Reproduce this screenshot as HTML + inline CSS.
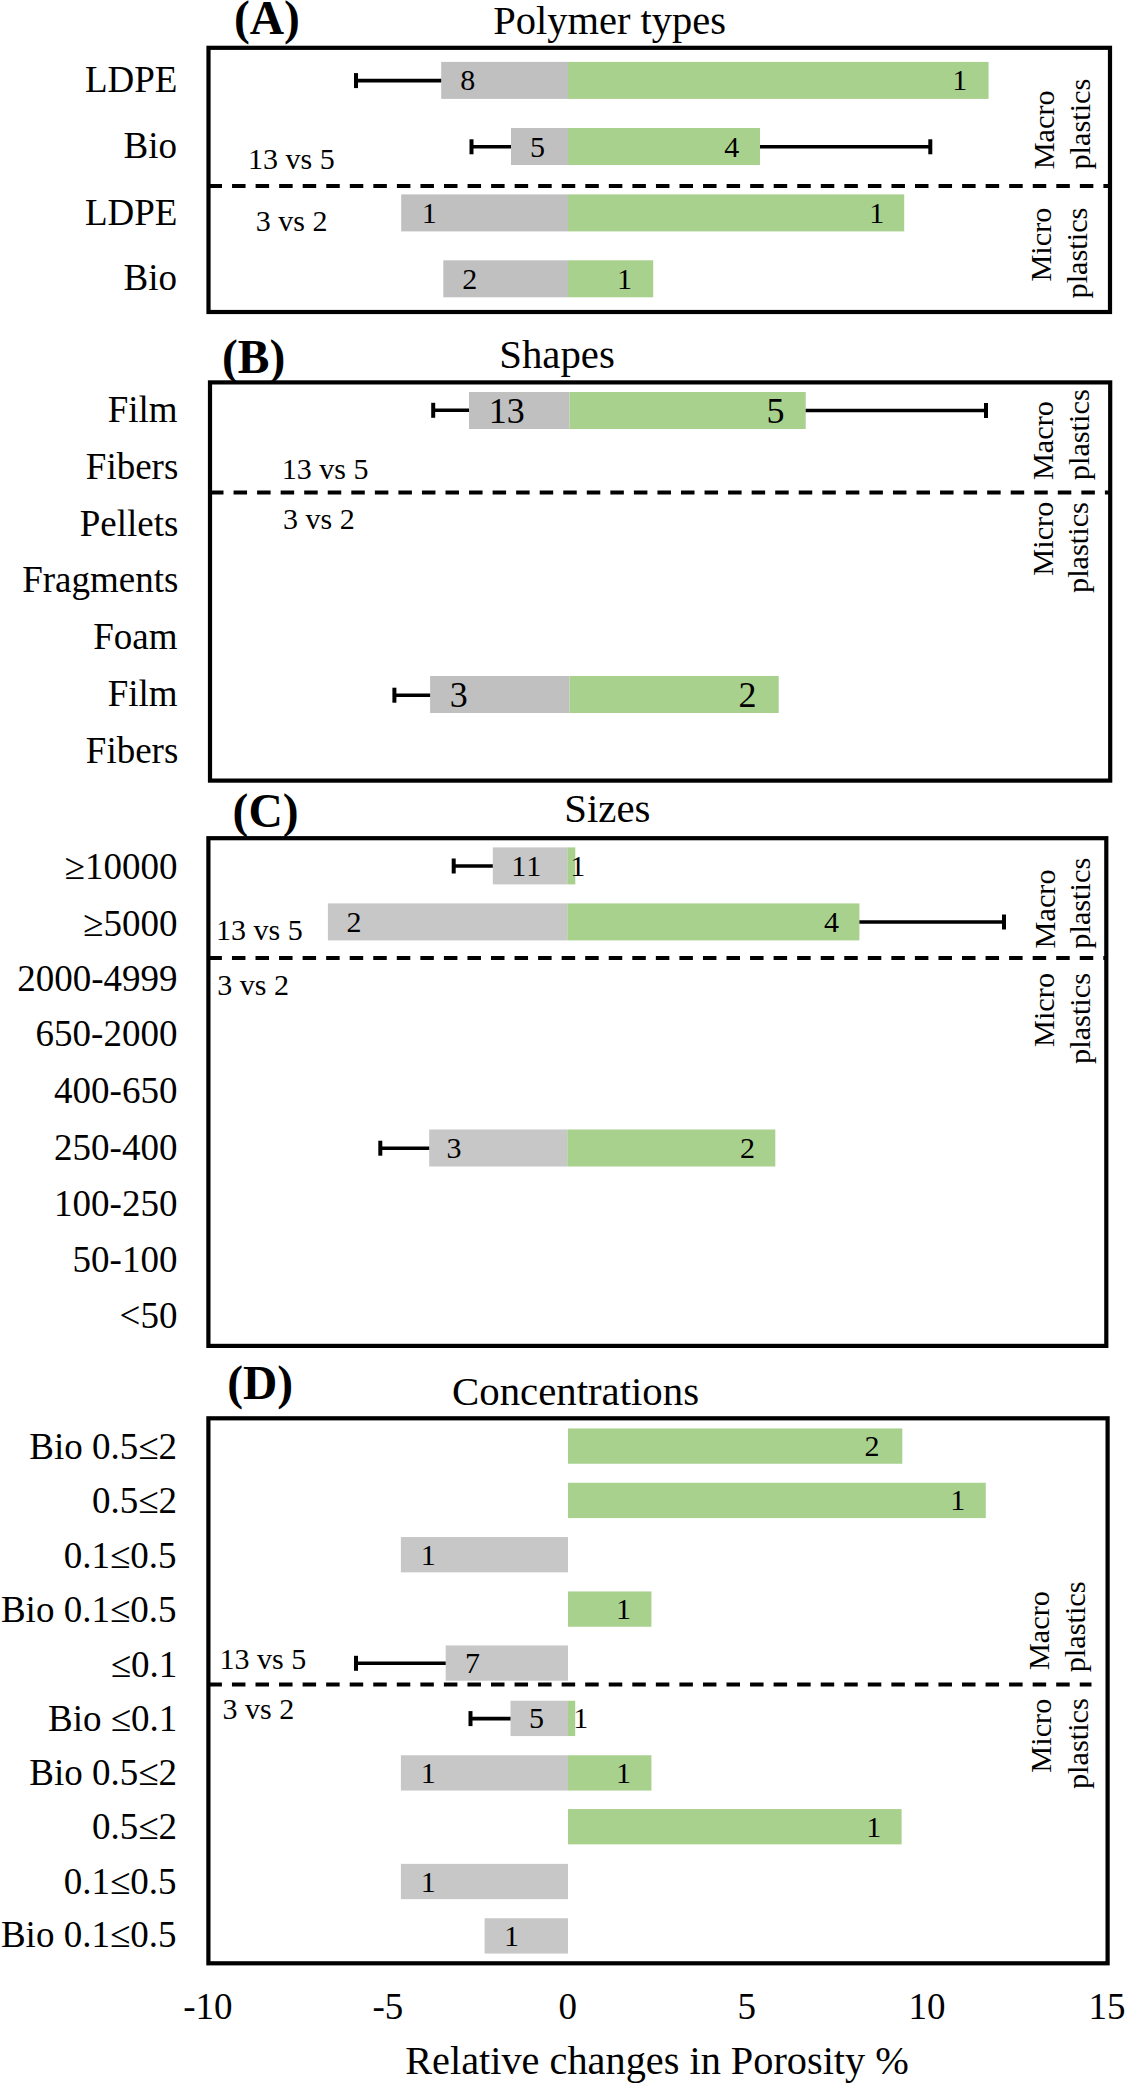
<!DOCTYPE html>
<html><head><meta charset="utf-8"><style>
html,body{margin:0;padding:0;background:#fff;}
svg{display:block;}
text{font-family:"Liberation Serif",serif;font-kerning:none;fill:#000;}
</style></head><body>
<svg width="1125" height="2085" viewBox="0 0 1125 2085">
<rect width="1125" height="2085" fill="#fff"/>
<text x="233.91" y="33.80" font-size="47.5" font-weight="bold">(A)</text>
<text x="493.23" y="33.90" font-size="40.5">Polymer types</text>
<rect x="208.5" y="47.8" width="901.5" height="264.2" fill="none" stroke="#000" stroke-width="4.2"/>
<rect x="441.20" y="61.90" width="126.80" height="37.00" fill="#c0c0c0"/>
<rect x="568.00" y="61.90" width="420.60" height="37.00" fill="#a9d18e"/>
<text x="460.16" y="90.40" font-size="30">8</text>
<text x="952.16" y="90.40" font-size="30">1</text>
<rect x="511.00" y="128.00" width="57.00" height="37.00" fill="#c0c0c0"/>
<rect x="568.00" y="128.00" width="192.00" height="37.00" fill="#a9d18e"/>
<text x="530.06" y="156.50" font-size="30">5</text>
<text x="724.31" y="156.50" font-size="30">4</text>
<rect x="401.20" y="194.40" width="166.80" height="37.00" fill="#c0c0c0"/>
<rect x="568.00" y="194.40" width="336.20" height="37.00" fill="#a9d18e"/>
<text x="421.76" y="222.90" font-size="30">1</text>
<text x="869.36" y="222.90" font-size="30">1</text>
<rect x="443.30" y="260.30" width="124.70" height="37.00" fill="#c0c0c0"/>
<rect x="568.00" y="260.30" width="85.20" height="37.00" fill="#a9d18e"/>
<text x="462.28" y="288.80" font-size="30">2</text>
<text x="617.06" y="288.80" font-size="30">1</text>
<line x1="441.2" y1="80.6" x2="356" y2="80.6" stroke="#000" stroke-width="3.6"/>
<line x1="356" y1="73.1" x2="356" y2="88.1" stroke="#000" stroke-width="4"/>
<line x1="511" y1="146.8" x2="471.5" y2="146.8" stroke="#000" stroke-width="3.6"/>
<line x1="471.5" y1="139.3" x2="471.5" y2="154.3" stroke="#000" stroke-width="4"/>
<line x1="760" y1="146.8" x2="930.3" y2="146.8" stroke="#000" stroke-width="3.6"/>
<line x1="930.3" y1="139.3" x2="930.3" y2="154.3" stroke="#000" stroke-width="4"/>
<line x1="208.5" y1="186" x2="1110" y2="186" stroke="#000" stroke-width="3.8" stroke-dasharray="13.5 10.05"/>
<text x="248.06" y="168.70" font-size="30">13 vs 5</text>
<text x="255.86" y="230.80" font-size="30">3 vs 2</text>
<text x="84.94" y="92.00" font-size="37">LDPE</text>
<text x="123.55" y="158.00" font-size="37">Bio</text>
<text x="84.94" y="224.70" font-size="37">LDPE</text>
<text x="123.55" y="290.00" font-size="37">Bio</text>
<text transform="translate(1054.40,169.37) rotate(-90)" font-size="30.3">Macro</text>
<text transform="translate(1089.70,169.59) rotate(-90)" font-size="30.3">plastics</text>
<text transform="translate(1051.40,281.59) rotate(-90)" font-size="30.3">Micro</text>
<text transform="translate(1086.70,298.49) rotate(-90)" font-size="30.3">plastics</text>
<text x="221.91" y="373.00" font-size="47.5" font-weight="bold">(B)</text>
<text x="499.27" y="367.70" font-size="40.8">Shapes</text>
<rect x="210" y="382.4" width="900.2" height="398.20000000000005" fill="none" stroke="#000" stroke-width="4.2"/>
<rect x="469.00" y="392.00" width="100.50" height="37.00" fill="#c0c0c0"/>
<rect x="569.50" y="392.00" width="236.20" height="37.00" fill="#a9d18e"/>
<text x="488.84" y="422.80" font-size="36">13</text>
<text x="766.51" y="422.80" font-size="36">5</text>
<rect x="430.10" y="676.00" width="139.40" height="37.00" fill="#c0c0c0"/>
<rect x="569.50" y="676.00" width="209.20" height="37.00" fill="#a9d18e"/>
<text x="449.78" y="706.80" font-size="36">3</text>
<text x="738.62" y="706.80" font-size="36">2</text>
<line x1="469" y1="410.3" x2="433.2" y2="410.3" stroke="#000" stroke-width="3.6"/>
<line x1="433.2" y1="402.8" x2="433.2" y2="417.8" stroke="#000" stroke-width="4"/>
<line x1="805.7" y1="410.5" x2="986" y2="410.5" stroke="#000" stroke-width="3.6"/>
<line x1="986" y1="403.0" x2="986" y2="418.0" stroke="#000" stroke-width="4"/>
<line x1="430.1" y1="695.2" x2="394.4" y2="695.2" stroke="#000" stroke-width="3.6"/>
<line x1="394.4" y1="687.7" x2="394.4" y2="702.7" stroke="#000" stroke-width="4"/>
<line x1="210" y1="492.5" x2="1110.2" y2="492.5" stroke="#000" stroke-width="3.8" stroke-dasharray="13.5 10.05"/>
<text x="281.76" y="478.60" font-size="30">13 vs 5</text>
<text x="282.96" y="529.10" font-size="30">3 vs 2</text>
<text x="107.66" y="421.70" font-size="37">Film</text>
<text x="85.84" y="478.60" font-size="37">Fibers</text>
<text x="79.68" y="535.50" font-size="37">Pellets</text>
<text x="22.13" y="592.40" font-size="37">Fragments</text>
<text x="93.30" y="649.30" font-size="37">Foam</text>
<text x="107.66" y="706.20" font-size="37">Film</text>
<text x="85.84" y="763.00" font-size="37">Fibers</text>
<text transform="translate(1052.70,480.07) rotate(-90)" font-size="30.3">Macro</text>
<text transform="translate(1088.60,480.19) rotate(-90)" font-size="30.3">plastics</text>
<text transform="translate(1052.80,575.69) rotate(-90)" font-size="30.3">Micro</text>
<text transform="translate(1088.00,592.99) rotate(-90)" font-size="30.3">plastics</text>
<text x="232.61" y="827.00" font-size="47.5" font-weight="bold">(C)</text>
<text x="564.27" y="821.50" font-size="40.8">Sizes</text>
<rect x="208.4" y="838.2" width="897.9" height="507.70000000000005" fill="none" stroke="#000" stroke-width="4.2"/>
<rect x="492.80" y="847.40" width="74.50" height="37.00" fill="#c7c7c7"/>
<rect x="567.30" y="847.40" width="8.00" height="37.00" fill="#a9d18e"/>
<text x="511.26" y="875.90" font-size="30">11</text>
<text x="570.36" y="875.90" font-size="30">1</text>
<rect x="327.90" y="903.40" width="239.40" height="37.00" fill="#c7c7c7"/>
<rect x="567.30" y="903.40" width="292.10" height="37.00" fill="#a9d18e"/>
<text x="346.48" y="931.90" font-size="30">2</text>
<text x="824.11" y="931.90" font-size="30">4</text>
<rect x="429.20" y="1129.50" width="138.10" height="37.00" fill="#c7c7c7"/>
<rect x="567.30" y="1129.50" width="208.00" height="37.00" fill="#a9d18e"/>
<text x="446.56" y="1158.00" font-size="30">3</text>
<text x="739.98" y="1158.00" font-size="30">2</text>
<line x1="492.8" y1="866" x2="453.7" y2="866" stroke="#000" stroke-width="3.6"/>
<line x1="453.7" y1="858.5" x2="453.7" y2="873.5" stroke="#000" stroke-width="4"/>
<line x1="859.4" y1="922" x2="1004" y2="922" stroke="#000" stroke-width="3.6"/>
<line x1="1004" y1="914.5" x2="1004" y2="929.5" stroke="#000" stroke-width="4"/>
<line x1="429.2" y1="1148.2" x2="380.3" y2="1148.2" stroke="#000" stroke-width="3.6"/>
<line x1="380.3" y1="1140.7" x2="380.3" y2="1155.7" stroke="#000" stroke-width="4"/>
<line x1="208.4" y1="958" x2="1106.3" y2="958" stroke="#000" stroke-width="3.8" stroke-dasharray="13.5 10.05"/>
<text x="216.06" y="940.00" font-size="30">13 vs 5</text>
<text x="217.26" y="995.10" font-size="30">3 vs 2</text>
<text x="64.60" y="878.60" font-size="37">≥10000</text>
<text x="83.10" y="935.50" font-size="37">≥5000</text>
<text x="17.20" y="990.60" font-size="37">2000-4999</text>
<text x="35.59" y="1045.70" font-size="37">650-2000</text>
<text x="54.09" y="1102.60" font-size="37">400-650</text>
<text x="54.09" y="1159.50" font-size="37">250-400</text>
<text x="54.09" y="1216.40" font-size="37">100-250</text>
<text x="72.59" y="1271.50" font-size="37">50-100</text>
<text x="119.54" y="1328.40" font-size="37">&lt;50</text>
<text transform="translate(1054.50,948.47) rotate(-90)" font-size="30.3">Macro</text>
<text transform="translate(1090.20,948.69) rotate(-90)" font-size="30.3">plastics</text>
<text transform="translate(1054.00,1046.99) rotate(-90)" font-size="30.3">Micro</text>
<text transform="translate(1089.60,1063.89) rotate(-90)" font-size="30.3">plastics</text>
<text x="227.21" y="1399.00" font-size="47.5" font-weight="bold">(D)</text>
<text x="452.03" y="1404.80" font-size="40.8">Concentrations</text>
<rect x="208.4" y="1418.3" width="899.1999999999999" height="545.0" fill="none" stroke="#000" stroke-width="4.2"/>
<rect x="568.00" y="1428.45" width="334.30" height="35.30" fill="#a9d18e"/>
<text x="864.58" y="1456.10" font-size="30">2</text>
<rect x="568.00" y="1482.75" width="417.80" height="35.30" fill="#a9d18e"/>
<text x="950.36" y="1510.40" font-size="30">1</text>
<rect x="400.90" y="1537.05" width="167.10" height="35.30" fill="#c7c7c7"/>
<text x="420.66" y="1564.70" font-size="30">1</text>
<rect x="568.00" y="1591.45" width="83.40" height="35.30" fill="#a9d18e"/>
<text x="616.06" y="1619.10" font-size="30">1</text>
<rect x="445.70" y="1645.45" width="122.30" height="35.30" fill="#c7c7c7"/>
<text x="464.92" y="1673.10" font-size="30">7</text>
<rect x="510.50" y="1700.75" width="57.50" height="35.30" fill="#c7c7c7"/>
<rect x="568.00" y="1700.75" width="7.20" height="35.30" fill="#a9d18e"/>
<text x="528.96" y="1728.40" font-size="30">5</text>
<text x="573.16" y="1728.40" font-size="30">1</text>
<rect x="400.90" y="1755.25" width="167.10" height="35.30" fill="#c7c7c7"/>
<rect x="568.00" y="1755.25" width="83.40" height="35.30" fill="#a9d18e"/>
<text x="420.66" y="1782.90" font-size="30">1</text>
<text x="616.06" y="1782.90" font-size="30">1</text>
<rect x="568.00" y="1809.05" width="333.60" height="35.30" fill="#a9d18e"/>
<text x="866.36" y="1836.70" font-size="30">1</text>
<rect x="400.90" y="1863.85" width="167.10" height="35.30" fill="#c7c7c7"/>
<text x="420.66" y="1891.50" font-size="30">1</text>
<rect x="484.60" y="1918.25" width="83.40" height="35.30" fill="#c7c7c7"/>
<text x="504.06" y="1945.90" font-size="30">1</text>
<line x1="445.7" y1="1663.3" x2="356" y2="1663.3" stroke="#000" stroke-width="3.6"/>
<line x1="356" y1="1655.8" x2="356" y2="1670.8" stroke="#000" stroke-width="4"/>
<line x1="510.5" y1="1718.6" x2="470.5" y2="1718.6" stroke="#000" stroke-width="3.6"/>
<line x1="470.5" y1="1711.1" x2="470.5" y2="1726.1" stroke="#000" stroke-width="4"/>
<line x1="208.4" y1="1684.5" x2="1091.5" y2="1684.5" stroke="#000" stroke-width="3.8" stroke-dasharray="13.5 10.05"/>
<text x="219.56" y="1668.90" font-size="30">13 vs 5</text>
<text x="222.56" y="1718.70" font-size="30">3 vs 2</text>
<text x="29.28" y="1458.50" font-size="37">Bio 0.5≤2</text>
<text x="91.98" y="1512.90" font-size="37">0.5≤2</text>
<text x="63.64" y="1568.00" font-size="37">0.1≤0.5</text>
<text x="0.93" y="1622.10" font-size="37">Bio 0.1≤0.5</text>
<text x="110.67" y="1677.20" font-size="37">≤0.1</text>
<text x="47.96" y="1731.20" font-size="37">Bio ≤0.1</text>
<text x="29.28" y="1784.90" font-size="37">Bio 0.5≤2</text>
<text x="91.98" y="1839.00" font-size="37">0.5≤2</text>
<text x="63.64" y="1894.10" font-size="37">0.1≤0.5</text>
<text x="0.93" y="1947.40" font-size="37">Bio 0.1≤0.5</text>
<text transform="translate(1049.00,1670.07) rotate(-90)" font-size="30.3">Macro</text>
<text transform="translate(1085.40,1672.29) rotate(-90)" font-size="30.3">plastics</text>
<text transform="translate(1050.60,1772.69) rotate(-90)" font-size="30.3">Micro</text>
<text transform="translate(1087.60,1789.09) rotate(-90)" font-size="30.3">plastics</text>
<text x="183.16" y="2018.90" font-size="37">-10</text>
<text x="372.43" y="2018.90" font-size="37">-5</text>
<text x="558.55" y="2018.90" font-size="37">0</text>
<text x="737.60" y="2018.90" font-size="37">5</text>
<text x="908.48" y="2018.90" font-size="37">10</text>
<text x="1088.60" y="2018.90" font-size="37">15</text>
<text x="405.24" y="2073.80" font-size="40.3">Relative changes in Porosity %</text>
</svg></body></html>
